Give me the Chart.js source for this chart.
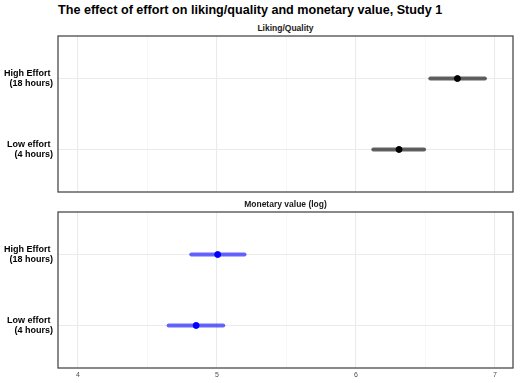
<!DOCTYPE html>
<html>
<head>
<meta charset="utf-8">
<script src="https://cdn.jsdelivr.net/npm/chart.js@4/dist/chart.umd.min.js"></script>
<style>
  body { margin: 0; background: #fff; }
  #wrap { position: relative; width: 520px; height: 383px; font-family: "Liberation Sans", Arial, sans-serif; }
  #wrap canvas { position: absolute; left: 0; }
  .title { position: absolute; left: 58px; top: 3px; font-size: 12.6px; font-weight: bold; color: #000; white-space: nowrap; }
  .strip { position: absolute; left: 58px; width: 455px; text-align: center; font-size: 8.5px; font-weight: bold; color: #1a1a1a; }
</style>
</head>
<body>
<div id="wrap">
  <div class="title">The effect of effort on liking/quality and monetary value, Study 1</div>
  <div class="strip" style="top:23px">Liking/Quality</div>
  <canvas id="liking" width="520" height="170" style="top:30px"></canvas>
  <div class="strip" style="top:199px">Monetary value (log)</div>
  <canvas id="money" width="520" height="177" style="top:206px"></canvas>
</div>
<script>
// rows, top to bottom (y = 2 is the upper row)
const groups = [['High Effort ', '(18 hours)'], ['Low effort ', '(4 hours)']];
const rowPos = [2, 1];

// Liking/Quality: mean and interval
const likingMean = [6.73, 6.31];
const likingLow = [6.535, 6.125];
const likingHigh = [6.928, 6.49];

// Monetary value (log)
const moneyMean = [5.005, 4.85];
const moneyLow = [4.815, 4.652];
const moneyHigh = [5.198, 5.045];

const xTicks = [4, 4.5, 5, 5.5, 6, 6.5, 7];

// draws the dark box round each panel
const panelBorder = {
    id: 'panelBorder',
    afterDraw(chart) {
        const a = chart.chartArea;
        const ctx = chart.ctx;
        ctx.save();
        ctx.strokeStyle = '#4a4a4a';
        ctx.lineWidth = 1.3;
        ctx.strokeRect(a.left, a.top, a.right - a.left, a.bottom - a.top);
        ctx.restore();
    }
};

function buildPanel(id, mean, low, high, barColor, dotColor, showX, padBottom, xHeight) {
    const datasets = [{
        data: mean.map((m, i) => ({x: m, y: rowPos[i]})),
        backgroundColor: dotColor,
        borderColor: dotColor,
        pointRadius: 3,
        order: 0,
    }];
    low.forEach((l, i) => {
        datasets.push({
            data: [{x: l, y: rowPos[i]}, {x: high[i], y: rowPos[i]}],
            showLine: true,
            borderColor: barColor,
            borderWidth: 4,
            borderCapStyle: 'round',
            pointRadius: 0,
            order: 1,
        });
    });
    return new Chart(document.getElementById(id), {
        type: 'scatter',
        data: {datasets: datasets},
        plugins: [panelBorder],
        options: {
            responsive: false,
            animation: false,
            layout: {padding: {top: 6, right: 7, bottom: padBottom, left: 0}},
            plugins: {legend: {display: false}, tooltip: {enabled: false}},
            scales: {
                x: {
                    type: 'linear',
                    min: 3.856,
                    max: 7.13,
                    afterBuildTicks: s => { s.ticks = xTicks.map(v => ({value: v})); },
                    afterFit: s => { s.height = xHeight; s.paddingLeft = 0; s.paddingRight = 0; },
                    border: {display: false},
                    grid: {
                        drawTicks: false,
                        color: c => Number.isInteger(c.tick.value) ? '#ebebeb' : '#f3f3f3',
                        lineWidth: c => Number.isInteger(c.tick.value) ? 1.1 : 0.7,
                    },
                    ticks: {
                        display: showX,
                        autoSkip: false,
                        maxRotation: 0,
                        padding: 3,
                        color: '#4d4d4d',
                        font: {family: '"Liberation Sans", Arial, sans-serif', size: 7},
                        callback: v => Number.isInteger(v) ? String(v) : '',
                    },
                },
                y: {
                    type: 'linear',
                    min: 0.4,
                    max: 2.6,
                    afterBuildTicks: s => { s.ticks = rowPos.map(v => ({value: v})); },
                    afterFit: s => { s.width = 58; s.paddingTop = 0; s.paddingBottom = 0; },
                    border: {display: false},
                    grid: {drawTicks: false, color: '#ebebeb', lineWidth: 1.1},
                    ticks: {
                        padding: 5,
                        color: '#000',
                        font: {family: '"Liberation Sans", Arial, sans-serif', size: 9, weight: 'bold', lineHeight: 1.15},
                        callback: v => groups[rowPos.indexOf(v)],
                    },
                },
            },
        },
    });
}

buildPanel('liking', likingMean, likingLow, likingHigh, 'rgba(0,0,0,0.62)', '#000', false, 8, 0);
buildPanel('money', moneyMean, moneyLow, moneyHigh, 'rgba(0,0,255,0.6)', '#0000ff', true, 0, 15);
</script>
</body>
</html>
